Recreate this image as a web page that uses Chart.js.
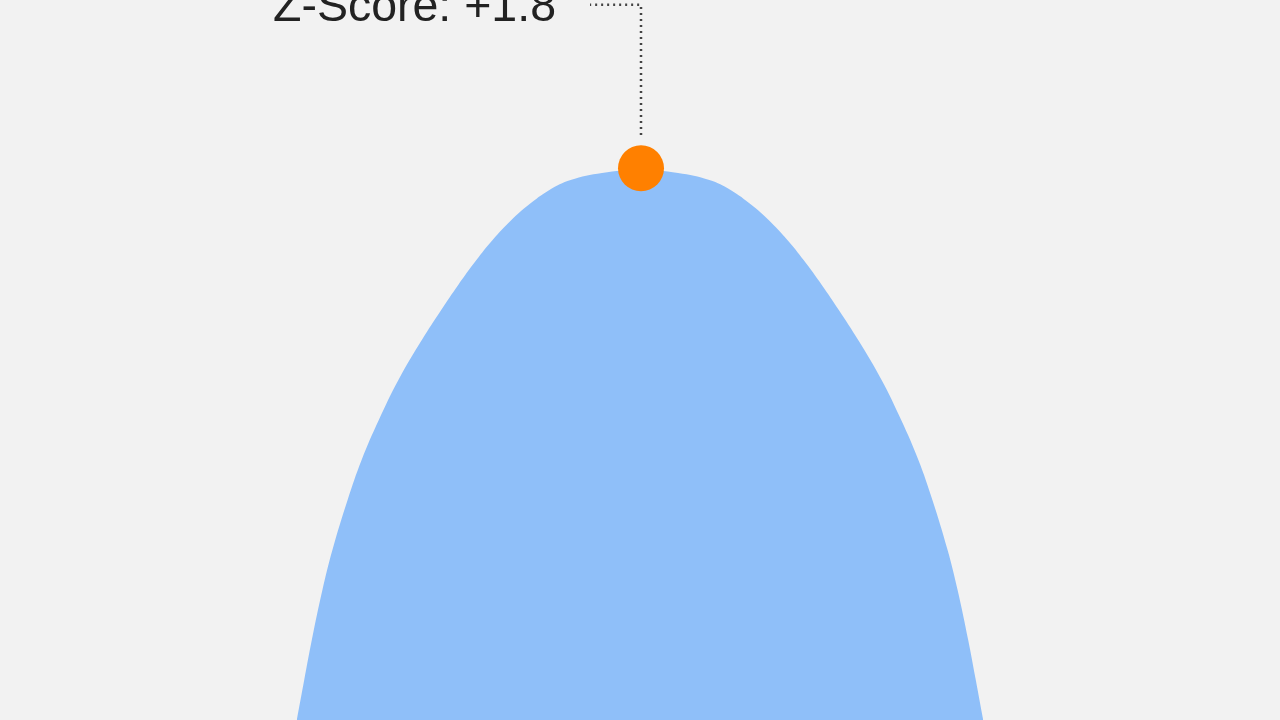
<!DOCTYPE html>
<html>
<head>
<meta charset="utf-8">
<script src="https://cdn.jsdelivr.net/npm/chart.js@4/dist/chart.umd.min.js"></script>
<style>
  html, body { margin: 0; padding: 0; background: #f2f2f2; overflow: hidden; }
  canvas { display: block; }
</style>
</head>
<body>
<canvas id="grafico" width="1280" height="720"></canvas>
<script>
// curve (z-score, density)
const zScores = [-1.716, -1.679, -1.641, -1.588, -1.538, -1.462, -1.392, -1.306, -1.208, -1.091, -0.994, -0.909, -0.818, -0.737, -0.643, -0.558, -0.453, -0.347, -0.19,
                 0,
                 0.19, 0.347, 0.453, 0.558, 0.643, 0.737, 0.818, 0.909, 0.994, 1.091, 1.208, 1.306, 1.392, 1.462, 1.538, 1.588, 1.641, 1.679, 1.716];
const density = [0, 0.0289, 0.0578, 0.0939, 0.1228, 0.1589, 0.1878, 0.2167, 0.2456, 0.2744, 0.2961, 0.3142, 0.3322, 0.3467, 0.3611, 0.3719, 0.3828, 0.3900, 0.3951,
                 0.3972,
                 0.3951, 0.3900, 0.3828, 0.3719, 0.3611, 0.3467, 0.3322, 0.3142, 0.2961, 0.2744, 0.2456, 0.2167, 0.1878, 0.1589, 0.1228, 0.0939, 0.0578, 0.0289, 0];

const marker = { x: 0.005, y: 0.3985 };
const leaderX = [0.005, 0.005, -0.25];
const leaderY = [0.4225, 0.5165, 0.5165];
const labelText = "Z-Score: +1.8";

const curva = zScores.map((z, i) => ({ x: z, y: density[i] }));
const leader = leaderX.map((x, i) => ({ x: x, y: leaderY[i] }));

const labelPlugin = {
    id: "zlabel",
    afterDatasetsDraw(chart) {
        const ctx = chart.ctx;
        const px = chart.scales.x.getPixelForValue(leaderX[2]);
        const py = chart.scales.y.getPixelForValue(leaderY[2]);
        ctx.save();
        ctx.font = "46.5px 'Liberation Sans', Arial, sans-serif";
        ctx.fillStyle = "#222222";
        ctx.textAlign = "right";
        ctx.textBaseline = "alphabetic";
        ctx.fillText(labelText, px - 34, py + 16);
        ctx.restore();
    }
};

const ctx = document.getElementById("grafico").getContext("2d");

new Chart(ctx, {
    type: "line",
    data: {
        datasets: [
            {
                data: leader,
                borderColor: "#444444",
                borderWidth: 2.5,
                borderDash: [2, 4],
                pointRadius: 0,
                fill: false,
                tension: 0,
                clip: false,
            },
            {
                type: "scatter",
                data: [marker],
                backgroundColor: "#ff8000",
                borderWidth: 0,
                pointRadius: 23,
                pointHoverRadius: 23,
                clip: false,
            },
            {
                data: curva,
                borderWidth: 0,
                borderColor: "rgba(0,0,0,0)",
                backgroundColor: "#8fbff9",
                pointRadius: 0,
                fill: "start",
                tension: 0.4,
            },
        ],
    },
    options: {
        responsive: false,
        animation: false,
        layout: { padding: 0, autoPadding: false },
        plugins: { legend: { display: false }, tooltip: { enabled: false } },
        scales: {
            x: { type: "linear", min: -3.2, max: 3.2, display: false },
            y: { min: 0, max: 0.52, display: false },
        },
    },
    plugins: [labelPlugin],
});
</script>
</body>
</html>
